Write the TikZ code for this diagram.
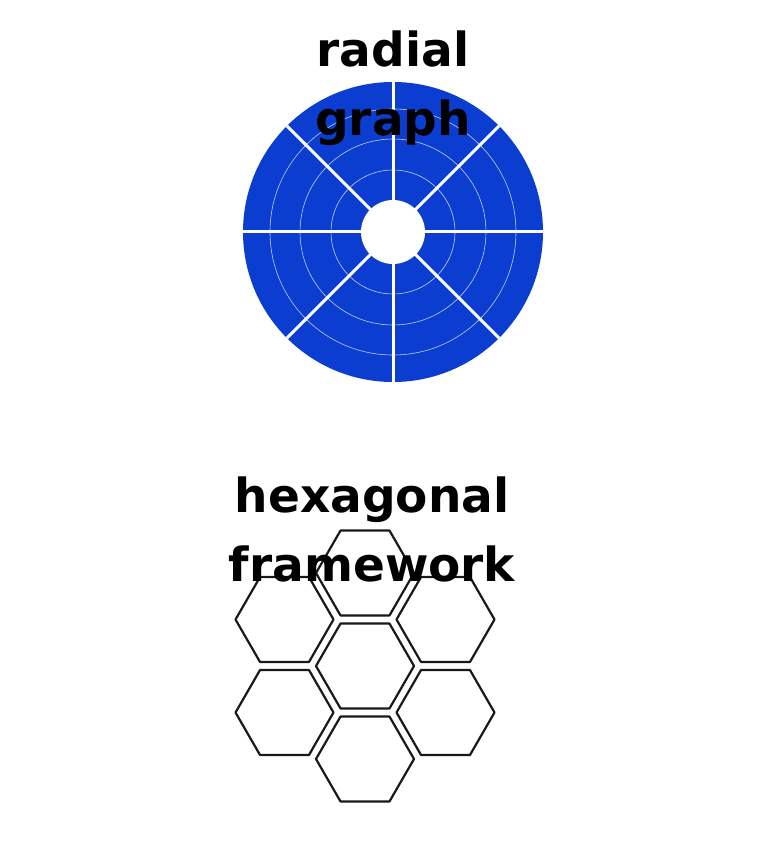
\documentclass[tikz,border=0pt]{standalone}
\usepackage{fontspec}
\setmainfont{DejaVu Sans}
\begin{document}
\begin{tikzpicture}[x=1pt,y=-1pt,
  hexcell/.style={draw=black!90,line width=2.2pt,line join=round},
  lbl/.style={font=\fontsize{47}{69}\selectfont\bfseries,align=center,inner sep=0pt}]
\definecolor{radblue}{HTML}{0A3DD0}
\useasboundingbox (0,0) rectangle (768,866);
% radial graph
\fill[radblue] (393,232) circle[radius=150];
\foreach \r in {62,93,123} \draw[white!75!radblue,line width=0.6pt] (393,232) circle[radius=\r];
\foreach \a in {0,45,...,315} \draw[white,line width=3pt] (393,232) -- ++(\a:150);
\fill[white] (393,232) circle[radius=32];
\node[lbl] (t1) at (393,88) {radial\\graph};
% hexagons
\foreach \n/\cx/\cy in {c/365/666,t/365/573,b/365/759,ul/284.5/619.5,ur/445.5/619.5,ll/284.5/712.5,lr/445.5/712.5}
  \draw[hexcell] (\cx,\cy) +(0:49) -- +(60:49) -- +(120:49) -- +(180:49) -- +(240:49) -- +(300:49) -- cycle;
\node[lbl] (t2) at (372,529) {hexagonal\\framework};
\end{tikzpicture}
\end{document}
